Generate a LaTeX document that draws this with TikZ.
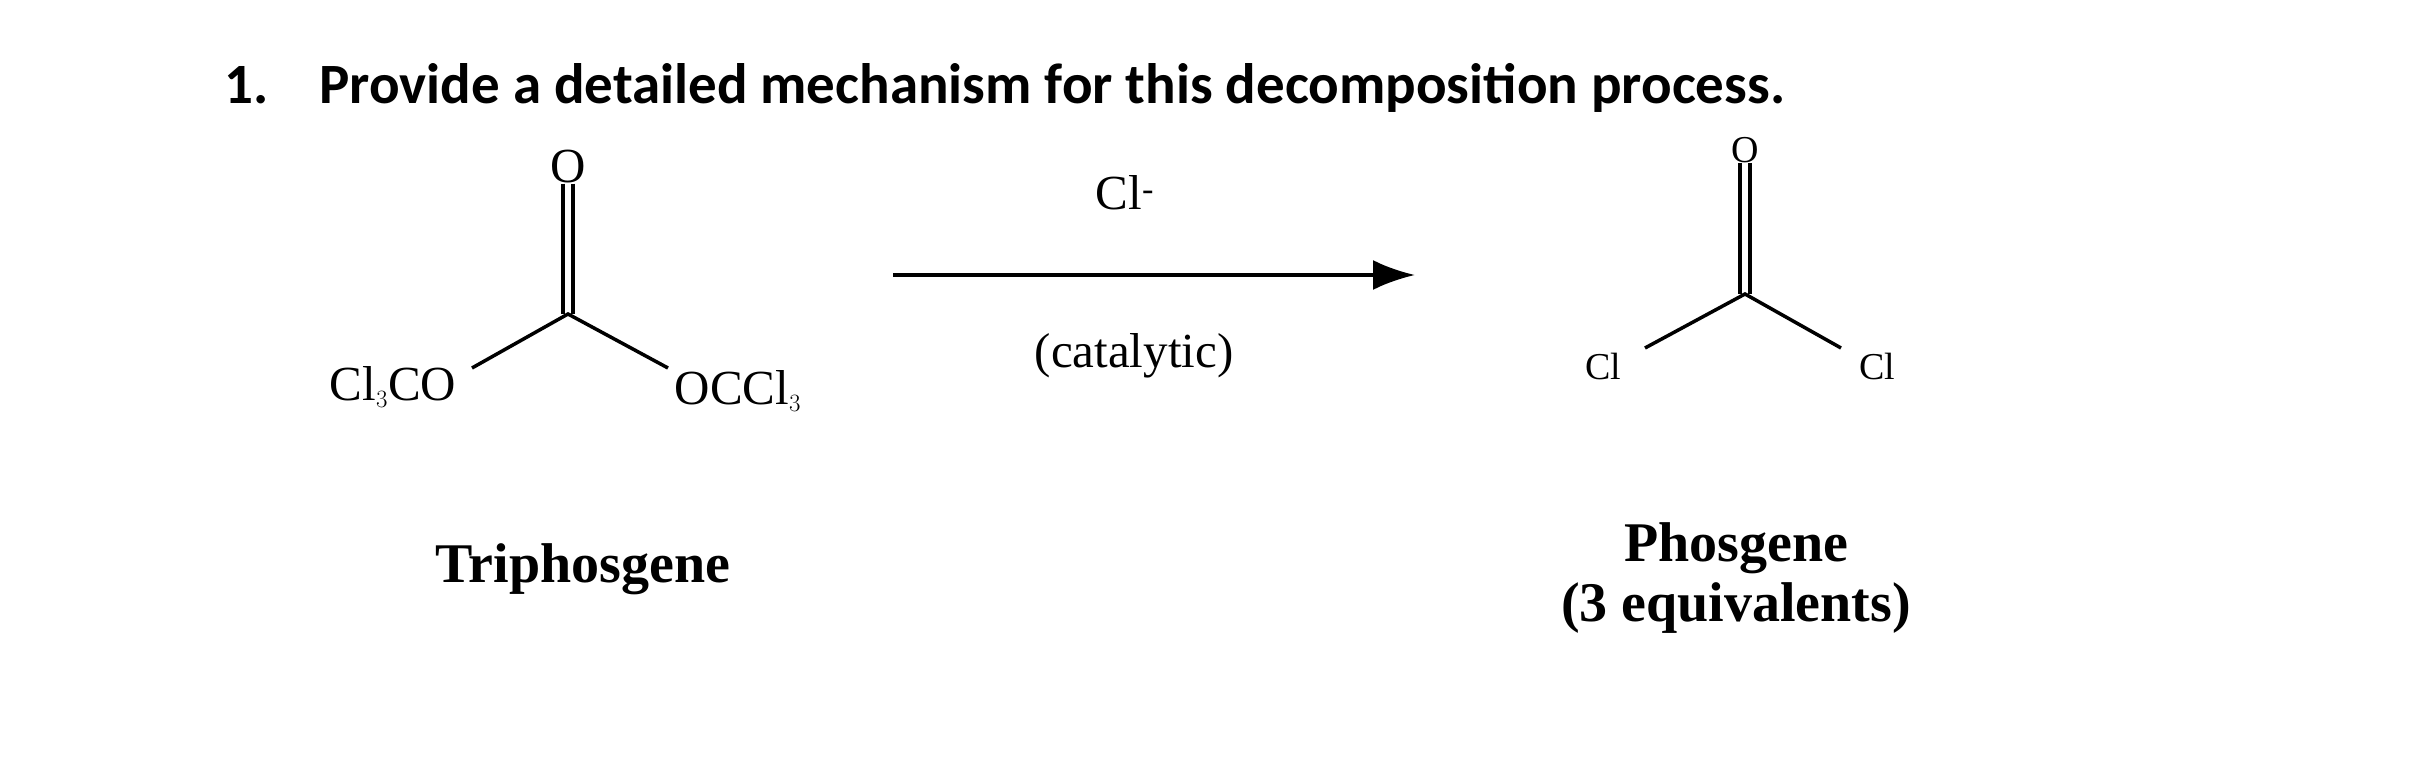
\documentclass[tikz,border=0pt]{standalone}
\usepackage{fontspec}
\setmainfont{Liberation Serif}
\newfontfamily\titlefont{Carlito}
\usetikzlibrary{arrows.meta}
\begin{document}
\begin{tikzpicture}[x=1pt,y=-1pt,
  bond/.style={line width=3.5pt},
  atom/.style={font=\fontsize{49}{54}\selectfont,inner sep=0pt},
  satom/.style={font=\fontsize{38}{42}\selectfont,inner sep=0pt},
  lbl/.style={font=\fontsize{56}{60}\selectfont\bfseries,align=center,inner sep=0pt}]
\useasboundingbox (0,0) rectangle (2426,778);
\node[anchor=base west,inner sep=0pt,font=\titlefont\bfseries\fontsize{57}{64}\selectfont] (title) at (224,104) {1.\hspace{0.9em}Provide a detailed mechanism for this decomposition process.};
% triphosgene
\node[atom] (o1) at (568,167) {O};
\coordinate (c1) at (568,314);
\coordinate (l1) at (472,368);
\coordinate (r1) at (668,368);
\node[atom] (lg) at (393,387) {Cl$_3$CO};
\node[atom] (rg) at (738,391) {OCCl$_3$};
\draw[bond] ([xshift=-5pt]o1.south) -- ([xshift=-5pt]c1);
\draw[bond] ([xshift=5pt]o1.south) -- ([xshift=5pt]c1);
\draw[bond] (l1) -- (c1) -- (r1);
% arrow
\coordinate (a0) at (893,275);
\coordinate (a1) at (1415,275);
\draw[line width=3.5pt,-{Latex[length=42pt,width=30pt]}] (a0) -- (a1);
\node[atom] (cat) at (1125,193) {Cl\textsuperscript{-}};
\node[atom] (catl) at (1134,356) {(catalytic)};
% phosgene
\node[satom] (o2) at (1745,150) {O};
\coordinate (c2) at (1745,294);
\coordinate (l2) at (1645,348);
\coordinate (r2) at (1841,348);
\node[satom] (cl2a) at (1603,367) {Cl};
\node[satom] (cl2b) at (1877,367) {Cl};
\draw[bond] ([xshift=-5pt]o2.south) -- ([xshift=-5pt]c2);
\draw[bond] ([xshift=5pt]o2.south) -- ([xshift=5pt]c2);
\draw[bond] (l2) -- (c2) -- (r2);
% labels
\node[lbl] (tp) at (583,569) {Triphosgene};
\node[lbl] (ph) at (1736,578) {Phosgene\\(3 equivalents)};
\end{tikzpicture}
\end{document}
